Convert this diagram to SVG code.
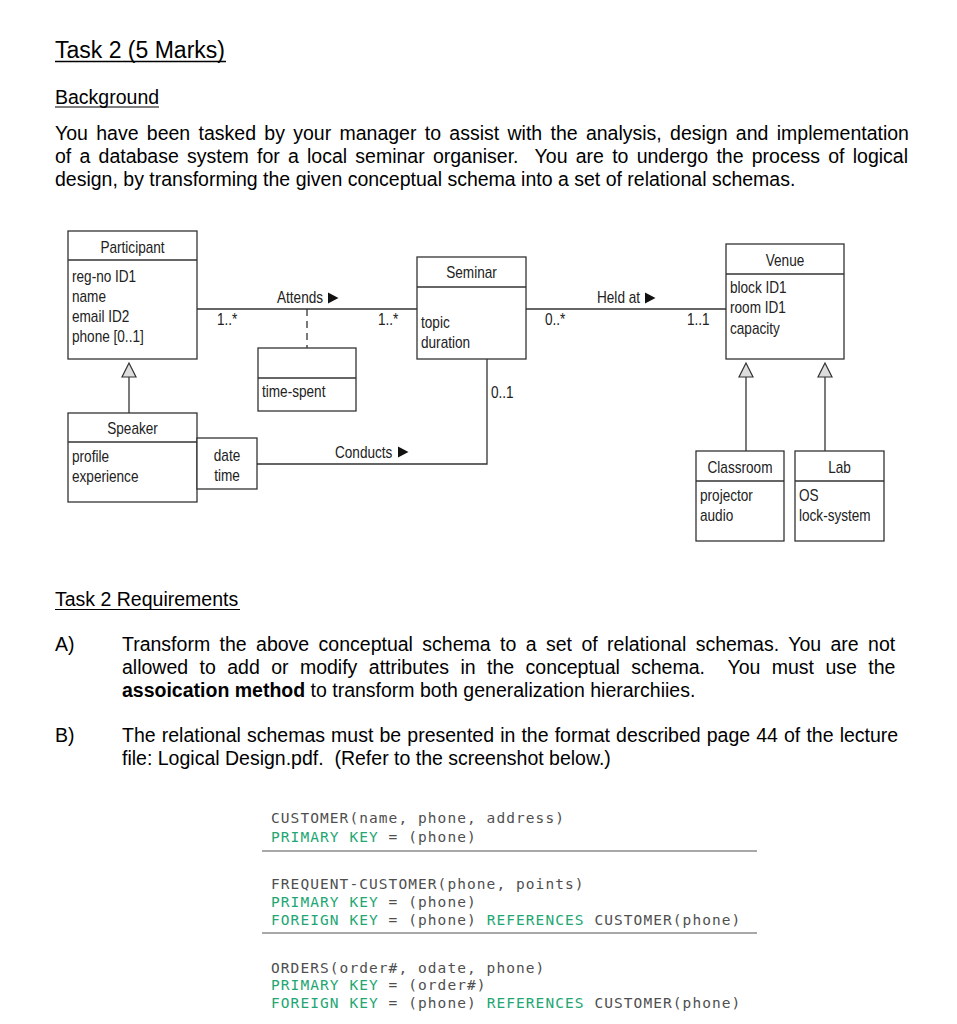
<svg xmlns="http://www.w3.org/2000/svg" width="957" height="1024" viewBox="0 0 957 1024">
<style>
.doc{font-family:"Liberation Sans",Arial,sans-serif;font-size:19.5px;fill:#000;white-space:pre}
.ul{stroke:#000;stroke-width:1.4}
.box{fill:#fff;stroke:#333;stroke-width:1.3}
.sep{stroke:#333;stroke-width:1.3}
.t{font-family:"Liberation Sans",Arial,sans-serif;font-size:16px;fill:#222}
.c{text-anchor:middle}
.ln{fill:none;stroke:#333;stroke-width:1.3}
.gen{fill:#ddd;stroke:#333;stroke-width:1.2}
.arr{fill:#111}
.mono{font-family:"DejaVu Sans Mono","Liberation Mono",monospace;font-size:14.5px;letter-spacing:1.07px;white-space:pre}
.g{fill:#22a672}
.k{fill:#4f4f4f}
.rule{stroke:#a8a8a8;stroke-width:2}
</style>

<g id="header">
<text class="doc" x="55" y="58" style="font-size:23px">Task 2 (5 Marks)</text>
<line class="ul" x1="55" y1="61.5" x2="226" y2="61.5"/>
<text class="doc" x="55" y="104">Background</text>
<line class="ul" x1="55" y1="107" x2="159" y2="107" style="stroke-width:1.2"/>
<text class="doc" x="55" y="140" word-spacing="2.9">You have been tasked by your manager to assist with the analysis, design and implementation</text>
<text class="doc" x="55" y="163" word-spacing="2.8">of a database system for a local seminar organiser.  You are to undergo the process of logical</text>
<text class="doc" x="55" y="186">design, by transforming the given conceptual schema into a set of relational schemas.</text>
</g>

<g id="participant">
<rect class="box" x="68" y="231" width="129" height="128"/>
<line class="sep" x1="68" y1="260" x2="197" y2="260"/>
<text class="t c" transform="translate(132.5 253) scale(0.85 1)">Participant</text>
<text class="t" transform="translate(72 282) scale(0.85 1)">reg-no ID1</text>
<text class="t" transform="translate(72 302) scale(0.85 1)">name</text>
<text class="t" transform="translate(72 322) scale(0.85 1)">email ID2</text>
<text class="t" transform="translate(72 342) scale(0.85 1)">phone [0..1]</text>
</g>

<g id="seminar">
<rect class="box" x="417" y="257" width="109" height="102"/>
<line class="sep" x1="417" y1="287" x2="526" y2="287"/>
<text class="t c" transform="translate(471.5 278) scale(0.85 1)">Seminar</text>
<text class="t" transform="translate(421 328) scale(0.85 1)">topic</text>
<text class="t" transform="translate(421 348) scale(0.85 1)">duration</text>
</g>

<g id="venue">
<rect class="box" x="726" y="244" width="118" height="115"/>
<line class="sep" x1="726" y1="274" x2="844" y2="274"/>
<text class="t c" transform="translate(785 266) scale(0.85 1)">Venue</text>
<text class="t" transform="translate(730 293) scale(0.85 1)">block ID1</text>
<text class="t" transform="translate(730 313) scale(0.85 1)">room ID1</text>
<text class="t" transform="translate(730 334) scale(0.85 1)">capacity</text>
</g>

<g id="attends-class">
<rect class="box" x="258" y="348" width="98" height="63"/>
<line class="sep" x1="258" y1="378" x2="356" y2="378"/>
<text class="t" transform="translate(262 397) scale(0.85 1)">time-spent</text>
</g>

<g id="speaker">
<rect class="box" x="68" y="413" width="129" height="89"/>
<line class="sep" x1="68" y1="442" x2="197" y2="442"/>
<text class="t c" transform="translate(132.5 434) scale(0.85 1)">Speaker</text>
<text class="t" transform="translate(72 462) scale(0.85 1)">profile</text>
<text class="t" transform="translate(72 482) scale(0.85 1)">experience</text>
</g>

<g id="conducts-attrs">
<rect class="box" x="197" y="438" width="60" height="51"/>
<text class="t c" transform="translate(227 461) scale(0.85 1)">date</text>
<text class="t c" transform="translate(227 481) scale(0.85 1)">time</text>
</g>

<g id="classroom">
<rect class="box" x="696" y="451" width="88" height="90"/>
<line class="sep" x1="696" y1="481" x2="784" y2="481"/>
<text class="t c" transform="translate(740 473) scale(0.85 1)">Classroom</text>
<text class="t" transform="translate(700 501) scale(0.85 1)">projector</text>
<text class="t" transform="translate(700 521) scale(0.85 1)">audio</text>
</g>

<g id="lab">
<rect class="box" x="795" y="451" width="89" height="90"/>
<line class="sep" x1="795" y1="481" x2="884" y2="481"/>
<text class="t c" transform="translate(839.5 473) scale(0.85 1)">Lab</text>
<text class="t" transform="translate(799 501) scale(0.85 1)">OS</text>
<text class="t" transform="translate(799 521) scale(0.85 1)">lock-system</text>
</g>

<g id="connectors">
<line class="ln" x1="197" y1="309" x2="417" y2="309"/>
<text class="t" transform="translate(277 303) scale(0.85 1)">Attends</text>
<polygon class="arr" points="328,292.5 338.5,298 328,303.5"/>
<text class="t" transform="translate(217 325) scale(0.85 1)">1..*</text>
<text class="t" transform="translate(378 325) scale(0.85 1)">1..*</text>
<line class="ln" x1="307" y1="309" x2="307" y2="348" stroke-dasharray="7,5"/>

<line class="ln" x1="526" y1="309" x2="726" y2="309"/>
<text class="t" transform="translate(597 303) scale(0.85 1)">Held at</text>
<polygon class="arr" points="645,292.5 655.5,298 645,303.5"/>
<text class="t" transform="translate(545 325) scale(0.85 1)">0..*</text>
<text class="t" transform="translate(687 325) scale(0.85 1)">1..1</text>

<polyline class="ln" points="257,464 487,464 487,359"/>
<text class="t" transform="translate(335 458) scale(0.85 1)">Conducts</text>
<polygon class="arr" points="398,446.5 408.5,452 398,457.5"/>
<text class="t" transform="translate(491 398) scale(0.85 1)">0..1</text>

<line class="ln" x1="129" y1="377" x2="129" y2="413"/>
<polygon class="gen" points="129,363 122,377 136,377"/>
<line class="ln" x1="746" y1="377" x2="746" y2="451"/>
<polygon class="gen" points="746,363 739,377 753,377"/>
<line class="ln" x1="825" y1="377" x2="825" y2="451"/>
<polygon class="gen" points="825,363 818,377 832,377"/>
</g>

<g id="requirements">
<text class="doc" x="55" y="606">Task 2 Requirements</text>
<line class="ul" x1="55" y1="609.5" x2="240" y2="609.5" style="stroke-width:1.2"/>
<text class="doc" x="55" y="651">A)</text>
<text class="doc" x="122" y="651" word-spacing="4">Transform the above conceptual schema to a set of relational schemas. You are not</text>
<text class="doc" x="122" y="674" word-spacing="6">allowed to add or modify attributes in the conceptual schema.  You must use the</text>
<text class="doc" x="122" y="697"><tspan font-weight="bold">assoication method</tspan> to transform both generalization hierarchiies.</text>
<text class="doc" x="55" y="742">B)</text>
<text class="doc" x="122" y="742" word-spacing="0.7">The relational schemas must be presented in the format described page 44 of the lecture</text>
<text class="doc" x="122" y="765">file: Logical Design.pdf.  (Refer to the screenshot below.)</text>
</g>

<g id="screenshot">
<text class="mono k" x="271" y="823">CUSTOMER(name, phone, address)</text>
<text class="mono" x="271" y="842"><tspan class="g">PRIMARY KEY</tspan><tspan class="k"> = (phone)</tspan></text>
<line class="rule" x1="262" y1="851" x2="757" y2="851"/>
<text class="mono k" x="271" y="889">FREQUENT-CUSTOMER(phone, points)</text>
<text class="mono" x="271" y="907"><tspan class="g">PRIMARY KEY</tspan><tspan class="k"> = (phone)</tspan></text>
<text class="mono" x="271" y="925"><tspan class="g">FOREIGN KEY</tspan><tspan class="k"> = (phone) </tspan><tspan class="g">REFERENCES</tspan><tspan class="k"> CUSTOMER(phone)</tspan></text>
<line class="rule" x1="262" y1="933" x2="757" y2="933"/>
<text class="mono k" x="271" y="973">ORDERS(order#, odate, phone)</text>
<text class="mono" x="271" y="990"><tspan class="g">PRIMARY KEY</tspan><tspan class="k"> = (order#)</tspan></text>
<text class="mono" x="271" y="1008"><tspan class="g">FOREIGN KEY</tspan><tspan class="k"> = (phone) </tspan><tspan class="g">REFERENCES</tspan><tspan class="k"> CUSTOMER(phone)</tspan></text>
</g>
</svg>
